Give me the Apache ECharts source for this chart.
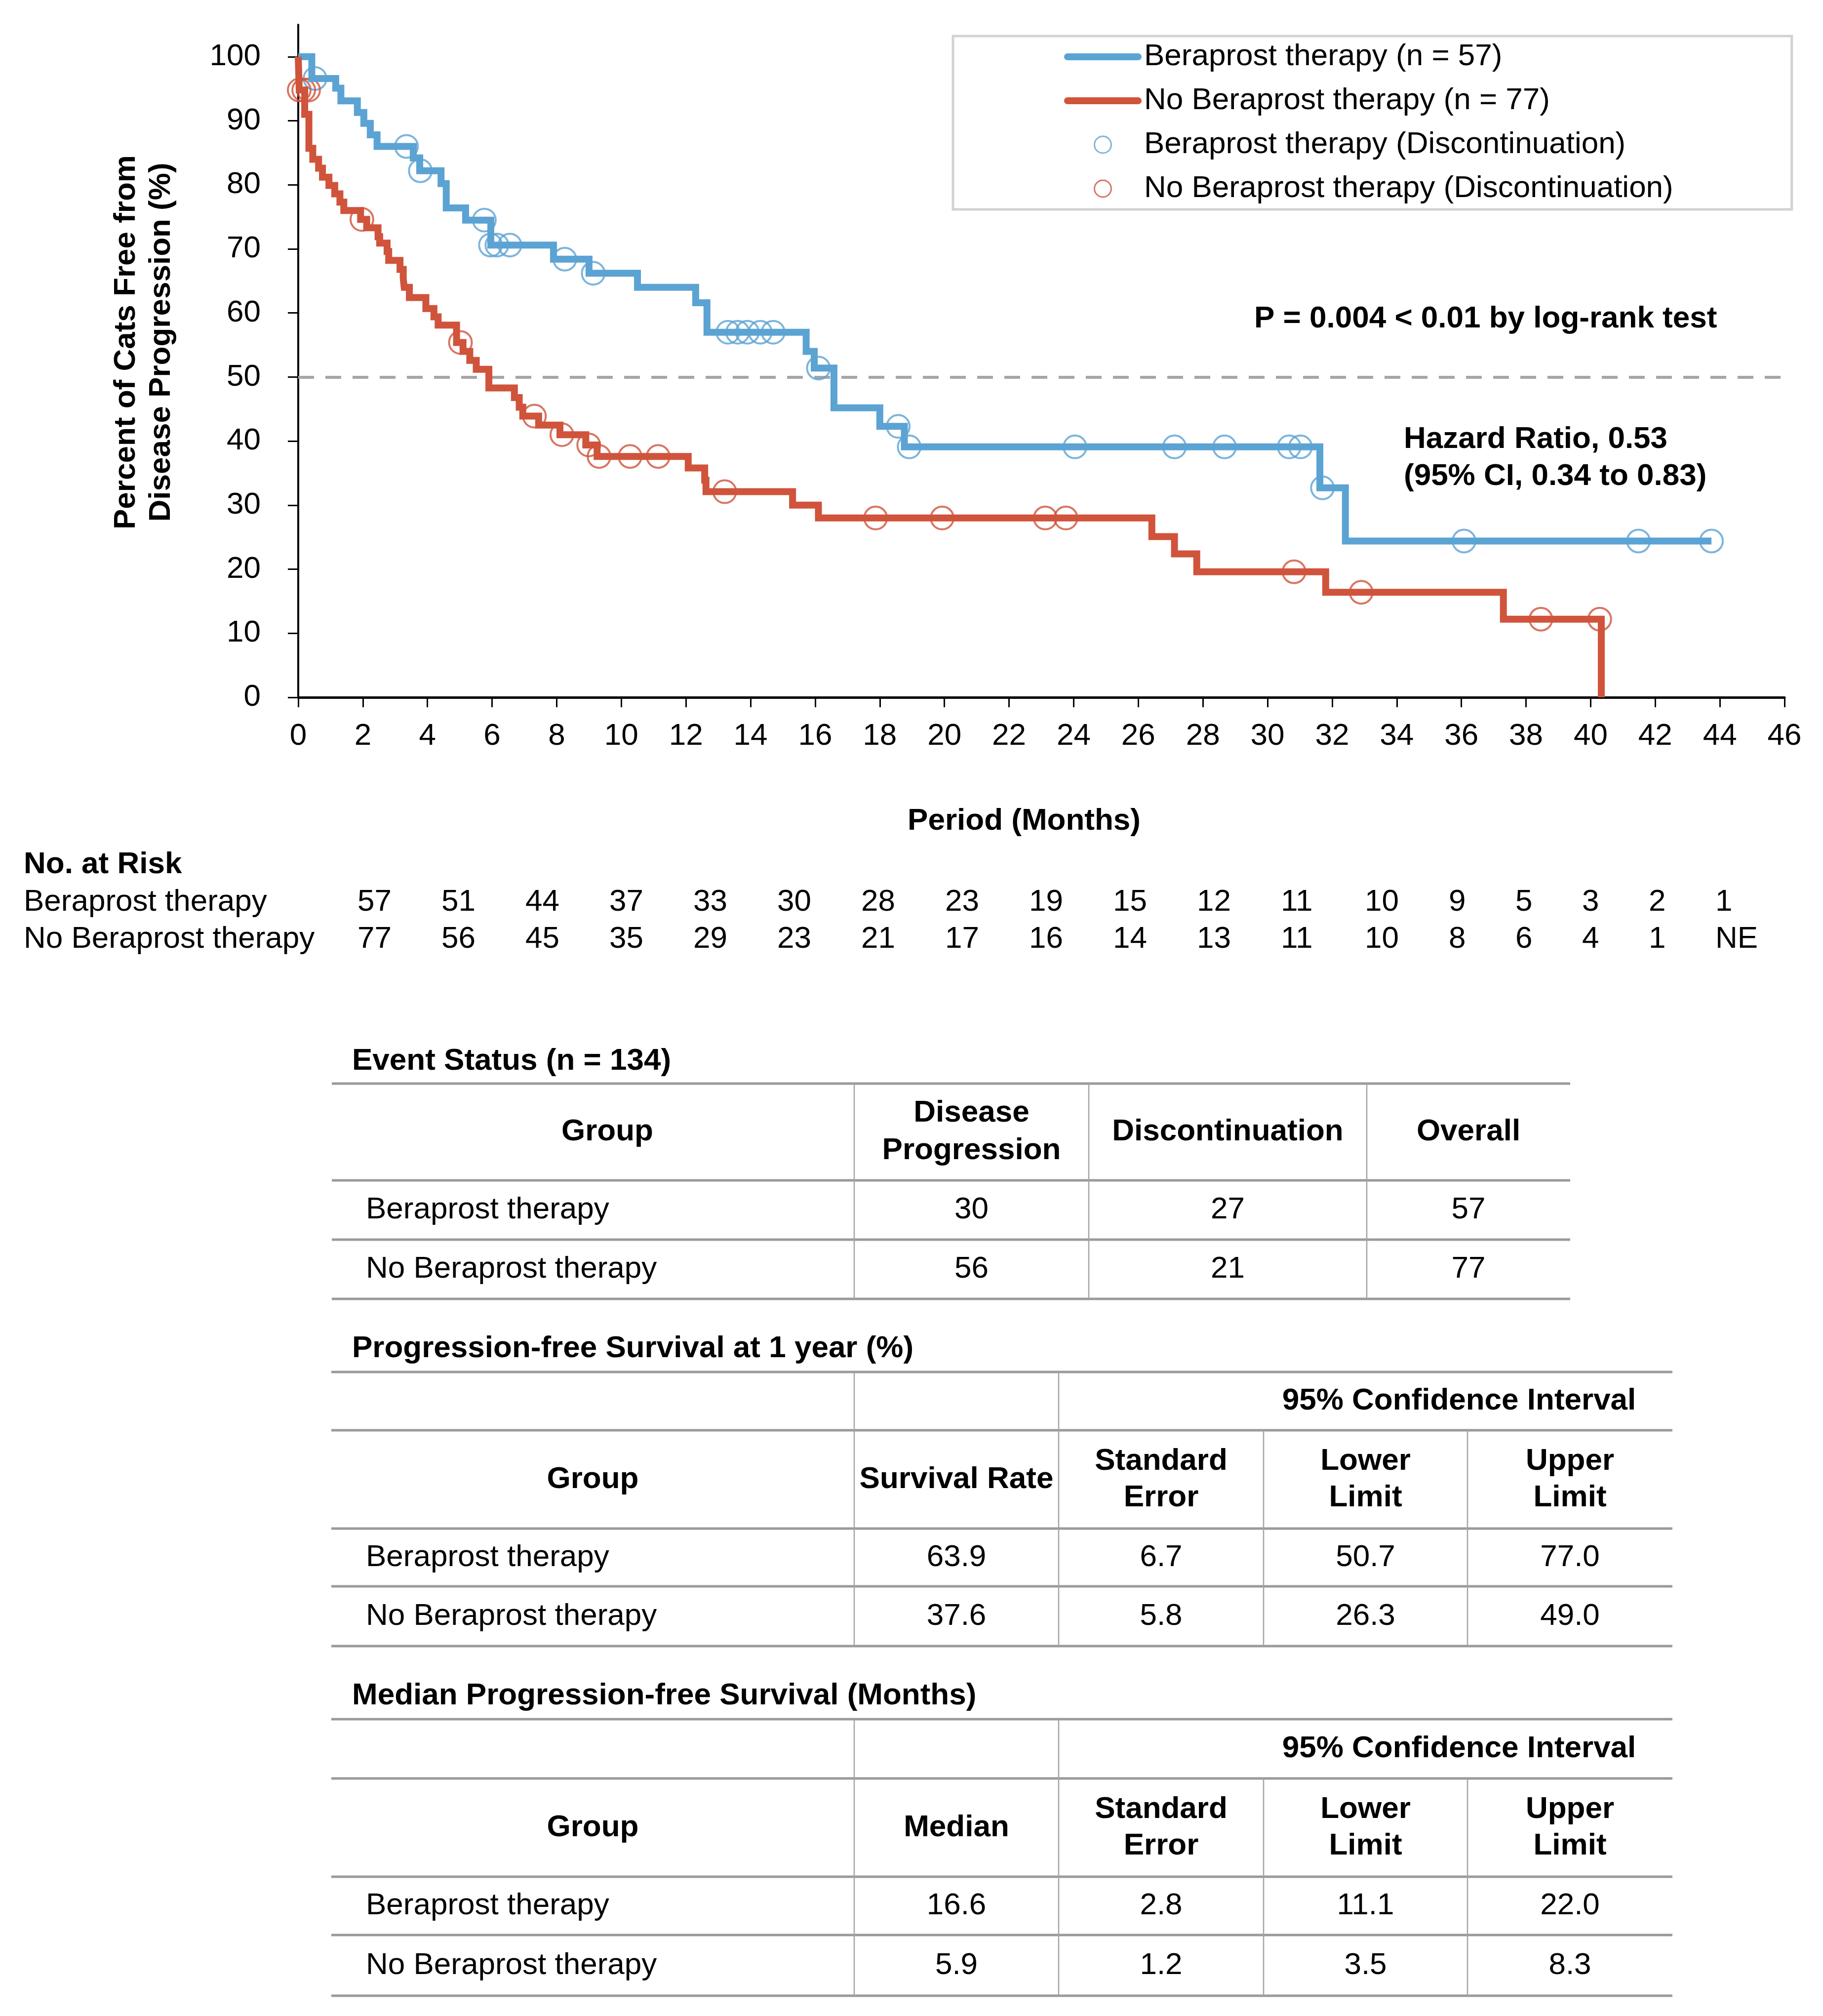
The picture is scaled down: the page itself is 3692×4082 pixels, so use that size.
<!DOCTYPE html>
<html>
<head>
<meta charset="utf-8">
<script src="https://cdn.jsdelivr.net/npm/echarts@6/dist/echarts.min.js"></script>
<style>
html,body{margin:0;padding:0;background:#fff;}
#c{width:3692px;height:4082px;}
</style>
</head>
<body>
<div id="c"></div>
<script>
// ---------- DATA ----------
const xTicks = [0,2,4,6,8,10,12,14,16,18,20,22,24,26,28,30,32,34,36,38,40,42,44,46];
const yTicks = [0,10,20,30,40,50,60,70,80,90,100];

const seriesNames = ['Beraprost therapy (n = 57)', 'No Beraprost therapy (n = 77)',
  'Beraprost therapy (Discontinuation)', 'No Beraprost therapy (Discontinuation)'];

// Kaplan-Meier steps, Beraprost therapy
const blueTimes = [0, 0.42, 1.16, 1.32, 1.83, 2.03, 2.23, 2.44, 3.56, 3.76, 4.42, 4.58, 5.18, 5.96, 7.9, 9.0, 10.5, 12.3, 12.65, 15.72, 15.97, 16.58, 18.0, 18.76, 31.62, 32.41, 43.74];
const blueSurv  = [100, 96.6, 95.1, 93.1, 91.3, 89.6, 87.8, 86.0, 84.2, 82.2, 80.2, 76.4, 74.5, 70.6, 68.4, 66.2, 64.0, 61.6, 57.0, 54.0, 51.4, 45.2, 42.3, 39.1, 32.7, 24.4, 24.4];
// Discontinuation (censored) marks, Beraprost therapy
const blueCensorTimes = [0.52, 3.35, 3.78, 5.76, 5.95, 6.15, 6.55, 8.25, 9.13, 13.3, 13.6, 13.9, 14.3, 14.7, 16.1, 18.57, 18.91, 24.04, 27.12, 28.67, 30.67, 31.02, 31.7, 36.08, 41.48, 43.74];
const blueCensorSurv  = [96.6, 86.0, 82.2, 74.5, 70.6, 70.6, 70.6, 68.4, 66.2, 57.0, 57.0, 57.0, 57.0, 57.0, 51.4, 42.3, 39.1, 39.1, 39.1, 39.1, 39.1, 39.1, 32.7, 24.4, 24.4, 24.4];

// Kaplan-Meier steps, No Beraprost therapy
const redTimes = [0, 0.03, 0.2, 0.33, 0.45, 0.63, 0.75, 0.95, 1.13, 1.29, 1.41, 1.93, 2.12, 2.47, 2.52, 2.75, 2.8, 3.15, 3.25, 3.28, 3.44, 3.95, 4.2, 4.33, 4.9, 5.1, 5.31, 5.51, 5.9, 6.69, 6.84, 6.95, 7.44, 8.1, 8.9, 9.25, 12.07, 12.58, 12.62, 15.3, 16.1, 26.42, 27.12, 27.81, 31.8, 37.3, 40.33];
const redSurv  = [100, 94.8, 91.0, 85.7, 84.0, 82.6, 81.2, 79.9, 78.6, 77.3, 76.0, 74.6, 73.3, 71.9, 70.9, 69.6, 68.2, 66.8, 65.4, 64.0, 62.4, 60.7, 59.4, 58.1, 55.4, 54.0, 52.6, 51.2, 48.3, 46.8, 45.3, 43.9, 42.5, 41.0, 39.4, 37.6, 35.8, 33.9, 32.1, 30.0, 28.0, 25.1, 22.4, 19.6, 16.4, 12.2, 0];
// Discontinuation (censored) marks, No Beraprost therapy
const redCensorTimes = [0.03, 0.17, 0.32, 1.97, 5.02, 7.31, 8.16, 8.99, 9.31, 10.27, 11.14, 13.2, 17.87, 19.93, 23.12, 23.76, 30.82, 32.9, 38.46, 40.28];
const redCensorSurv  = [94.8, 94.8, 94.8, 74.6, 55.4, 43.9, 41.0, 39.4, 37.6, 37.6, 37.6, 32.1, 28.0, 28.0, 28.0, 28.0, 19.6, 16.4, 12.2, 12.2];

const medianLine = 50;

// Number at risk
const riskGroups = ['Beraprost therapy', 'No Beraprost therapy'];
const atRiskBeraprost   = ['57','51','44','37','33','30','28','23','19','15','12','11','10','9','5','3','2','1'];
const atRiskNoBeraprost = ['77','56','45','35','29','23','21','17','16','14','13','11','10','8','6','4','1','NE'];

// Event status table
const eventHeaders = ['Group', 'Disease\nProgression', 'Discontinuation', 'Overall'];
const eventProgression = ['30', '56'];
const eventDiscontinuation = ['27', '21'];
const eventOverall = ['57', '77'];

// PFS at 1 year table
const pfsHeaders = ['Group', 'Survival Rate', 'Standard\nError', 'Lower\nLimit', 'Upper\nLimit'];
const pfsRate  = ['63.9', '37.6'];
const pfsSE    = ['6.7', '5.8'];
const pfsLower = ['50.7', '26.3'];
const pfsUpper = ['77.0', '49.0'];

// Median PFS table
const medHeaders = ['Group', 'Median', 'Standard\nError', 'Lower\nLimit', 'Upper\nLimit'];
const medValue = ['16.6', '5.9'];
const medSE    = ['2.8', '1.2'];
const medLower = ['11.1', '3.5'];
const medUpper = ['22.0', '8.3'];

// ---------- STYLE ----------
const BLUE = '#5ba3d3';
const RED = '#d0533b';
const FONT = "'Liberation Sans', Arial, Helvetica, sans-serif";
const FS = 62;
const GRID_LINE = '#9a9a9a';

function pairs(xs, ys) { return xs.map((x, i) => [x, ys[i]]); }

function txt(text, x, y, align, bold, lh) {
  return {
    type: 'text', silent: true,
    style: {
      text: text, x: x, y: y,
      fill: '#000',
      font: (bold ? 'bold ' : '') + FS + 'px ' + FONT,
      fontSize: FS, fontFamily: FONT, fontWeight: bold ? 'bold' : 'normal',
      lineHeight: lh || 74,
      align: align, textAlign: align,
      verticalAlign: 'middle', textVerticalAlign: 'middle'
    }
  };
}
function hline(x1, x2, y) {
  return { type: 'line', silent: true, shape: { x1: x1, y1: y, x2: x2, y2: y },
    style: { stroke: GRID_LINE, lineWidth: 5 } };
}
function vline(x, y1, y2) {
  return { type: 'line', silent: true, shape: { x1: x, y1: y1, x2: x, y2: y2 },
    style: { stroke: '#a3a3a3', lineWidth: 2.5 } };
}

const graphics = [];

// Annotations in plot
graphics.push(txt('P = 0.004 < 0.01 by log-rank test', 2540, 646, 'left', true));
graphics.push(txt('Hazard Ratio, 0.53', 2843, 890, 'left', true));
graphics.push(txt('(95% CI, 0.34 to 0.83)', 2843, 965, 'left', true));

// No. at risk
graphics.push(txt('No. at Risk', 48, 1751, 'left', true));
const riskRows = [atRiskBeraprost, atRiskNoBeraprost];
const riskY = [1827, 1902];
riskRows.forEach((row, r) => {
  graphics.push(txt(riskGroups[r], 48, riskY[r], 'left', false));
  row.forEach((v, i) => {
    const x = i < 14 ? 724 + 170 * i : 2934 + 135 * (i - 13);
    graphics.push(txt(v, x, riskY[r], 'left', false));
  });
});

// Table 1: Event status
(function () {
  const L = 672, R = 3180;
  const cols = [1730, 2205, 2768];
  const ys = [2194, 2390, 2510, 2630];
  graphics.push(txt('Event Status (n = 134)', 713, 2149, 'left', true));
  ys.forEach(y => graphics.push(hline(L, R, y)));
  cols.forEach(x => graphics.push(vline(x, ys[0], ys[3])));
  const centers = [1230, (cols[0] + cols[1]) / 2, (cols[1] + cols[2]) / 2, (cols[2] + R) / 2];
  const hy = (ys[0] + ys[1]) / 2;
  eventHeaders.forEach((h, i) => graphics.push(txt(h, centers[i], hy, 'center', true, 76)));
  const cells = [eventProgression, eventDiscontinuation, eventOverall];
  [0, 1].forEach(r => {
    const y = (ys[r + 1] + ys[r + 2]) / 2;
    graphics.push(txt(riskGroups[r], 741, y, 'left', false));
    cells.forEach((c, k) => graphics.push(txt(c[r], centers[k + 1], y, 'center', false)));
  });
})();

// Tables 2 & 3
function ciTable(title, titleY, ys, headers, cells) {
  const L = 671, R = 3387;
  const cols = [1730, 2144, 2559, 2972];
  graphics.push(txt(title, 713, titleY, 'left', true));
  ys.forEach(y => graphics.push(hline(L, R, y)));
  graphics.push(vline(cols[0], ys[0], ys[4]));
  graphics.push(vline(cols[1], ys[0], ys[4]));
  graphics.push(vline(cols[2], ys[1], ys[4]));
  graphics.push(vline(cols[3], ys[1], ys[4]));
  graphics.push(txt('95% Confidence Interval', 2955, (ys[0] + ys[1]) / 2, 'center', true));
  const centers = [(L + cols[0]) / 2, (cols[0] + cols[1]) / 2, (cols[1] + cols[2]) / 2, (cols[2] + cols[3]) / 2, (cols[3] + R) / 2];
  const hy = (ys[1] + ys[2]) / 2;
  headers.forEach((h, i) => graphics.push(txt(h, centers[i], hy, 'center', true, 74)));
  [0, 1].forEach(r => {
    const y = (ys[r + 2] + ys[r + 3]) / 2;
    graphics.push(txt(riskGroups[r], 741, y, 'left', false));
    cells.forEach((c, k) => graphics.push(txt(c[r], centers[k + 1], y, 'center', false)));
  });
}
ciTable('Progression-free Survival at 1 year (%)', 2731, [2778, 2896, 3095, 3212, 3333], pfsHeaders, [pfsRate, pfsSE, pfsLower, pfsUpper]);
ciTable('Median Progression-free Survival (Months)', 3434, [3481, 3601, 3800, 3918, 4041], medHeaders, [medValue, medSE, medLower, medUpper]);

// ---------- CHART ----------
const chart = echarts.init(document.getElementById('c'), null, { renderer: 'canvas' });

const linePath = 'path://M7,0 L150,0 A7,7 0 0 1 150,14 L7,14 A7,7 0 0 1 7,0 Z';

const option = {
  animation: false,
  backgroundColor: '#fff',
  textStyle: { fontFamily: FONT },
  grid: { left: 604, right: 78, top: 50, bottom: 2670, containLabel: false },
  legend: {
    orient: 'vertical',
    left: 1930, top: 73,
    padding: [11, 240, 11, 225],
    itemWidth: 157, itemHeight: 34, itemGap: 27,
    borderColor: '#d2d2d2', borderWidth: 5, backgroundColor: '#fff',
    textStyle: { fontSize: FS, fontFamily: FONT, color: '#000', lineHeight: 62 },
    selectedMode: false,
    data: [
      { name: seriesNames[0], icon: linePath, itemStyle: { color: BLUE } },
      { name: seriesNames[1], icon: linePath, itemStyle: { color: RED } },
      { name: seriesNames[2], icon: 'circle', itemStyle: { color: 'rgba(0,0,0,0)', borderColor: BLUE, borderWidth: 3 } },
      { name: seriesNames[3], icon: 'circle', itemStyle: { color: 'rgba(0,0,0,0)', borderColor: RED, borderWidth: 3 } }
    ]
  },
  xAxis: {
    type: 'value', min: 0, max: 46, interval: 2,
    name: 'Period (Months)', nameLocation: 'middle', nameGap: 220,
    nameTextStyle: { fontSize: FS, fontWeight: 'bold', color: '#000', fontFamily: FONT, padding: [0, 70, 0, 0] },
    axisLine: { show: true, lineStyle: { color: '#000', width: 5 } },
    axisTick: { show: true, inside: false, length: 20, lineStyle: { color: '#000', width: 3 } },
    axisLabel: { fontSize: FS, color: '#000', fontFamily: FONT, margin: 48 },
    splitLine: { show: false }
  },
  yAxis: {
    type: 'value', min: 0, max: 105, interval: 10,
    name: 'Percent of Cats Free from\nDisease Progression (%)',
    nameLocation: 'middle', nameGap: 242, nameRotate: 90,
    nameTextStyle: { fontSize: FS, fontWeight: 'bold', color: '#000', fontFamily: FONT, lineHeight: 71, padding: [0, 0, 0, 76] },
    axisLine: { show: true, lineStyle: { color: '#000', width: 4 } },
    axisTick: { show: true, inside: false, length: 21, lineStyle: { color: '#000', width: 3 }, customValues: yTicks },
    axisLabel: { fontSize: FS, color: '#000', fontFamily: FONT, margin: 76, customValues: yTicks },
    splitLine: { show: false }
  },
  series: [
    {
      name: seriesNames[0], type: 'line', step: 'end', z: 4,
      data: pairs(blueTimes, blueSurv),
      symbol: 'none', showSymbol: false,
      lineStyle: { color: BLUE, width: 14, cap: 'butt', join: 'miter' },
      itemStyle: { color: BLUE },
      markLine: {
        silent: true, symbol: ['none', 'none'], z: 1,
        label: { show: false },
        lineStyle: { color: '#a6a6a6', width: 6, type: [32, 23] },
        data: [{ yAxis: medianLine }]
      }
    },
    {
      name: seriesNames[1], type: 'line', step: 'end', z: 4,
      data: pairs(redTimes, redSurv),
      symbol: 'none', showSymbol: false,
      lineStyle: { color: RED, width: 14, cap: 'butt', join: 'miter' },
      itemStyle: { color: RED }
    },
    {
      name: seriesNames[2], type: 'scatter', z: 3,
      data: pairs(blueCensorTimes, blueCensorSurv),
      symbol: 'circle', symbolSize: 46,
      itemStyle: { color: 'rgba(0,0,0,0)', borderColor: BLUE, borderWidth: 4 }
    },
    {
      name: seriesNames[3], type: 'scatter', z: 3,
      data: pairs(redCensorTimes, redCensorSurv),
      symbol: 'circle', symbolSize: 46,
      itemStyle: { color: 'rgba(0,0,0,0)', borderColor: RED, borderWidth: 4 }
    }
  ],
  graphic: { elements: graphics }
};

chart.setOption(option);
</script>
</body>
</html>
